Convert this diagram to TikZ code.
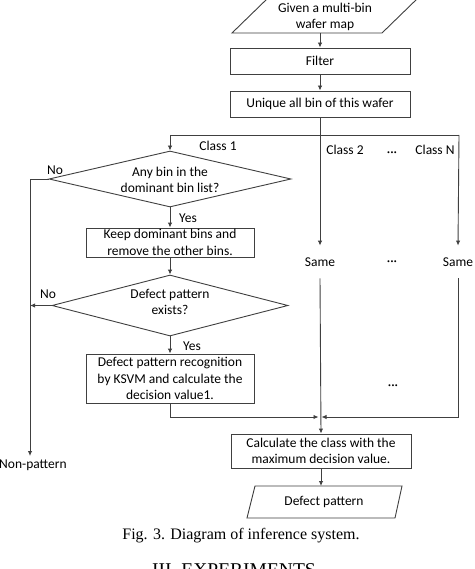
\documentclass[tikz,border=0pt]{standalone}
\usepackage{fontspec}
\setmainfont{Carlito}
\newfontfamily\capfont{Liberation Serif}
\usetikzlibrary{arrows.meta,shapes.geometric}
\definecolor{ln}{HTML}{404040}
\tikzset{
  arr/.style={draw=ln,line width=0.9pt,-{Latex[length=5pt,width=4.5pt]}},
  ln/.style={draw=ln,line width=0.9pt},
  box/.style={draw=ln,line width=0.9pt,rectangle,inner sep=0pt,align=center,font=\fontsize{13.5}{16.5}\selectfont},
  dia/.style={draw=ln,line width=0.9pt,diamond,inner sep=0pt},
  txt/.style={inner sep=0pt,align=center,font=\fontsize{13.5}{16.5}\selectfont},
}
\begin{document}
\begin{tikzpicture}[x=1pt,y=-1pt]
\useasboundingbox[fill=white] (0,0) rectangle (474,569);
% top parallelogram
\draw[ln] (232,33) -- (382,33) -- (418,-2) -- (268,-2) -- cycle;
\node[txt] (gin) at (325,17) {Given a multi-bin\\wafer map};
\coordinate (ginb) at (320,33);
\node[box,minimum width=180pt,minimum height=26pt] (filter) at (320,61) {Filter};
\node[box,minimum width=180pt,minimum height=26pt] (unique) at (320,104) {Unique all bin of this wafer};
\coordinate (c1) at (170,135);
\coordinate (c2) at (320,135);
\coordinate (cN) at (459,135);
\node[dia,minimum width=242pt,minimum height=56pt] (d1) at (170,179) {};
\node[txt] at (170,180) {Any bin in the\\dominant bin list?};
\node[box,minimum width=168pt,minimum height=29pt] (b2) at (170,242.5) {Keep dominant bins and\\remove the other bins.};
\node[dia,minimum width=236pt,minimum height=61pt] (d2) at (170,305.5) {};
\node[txt] at (170,302) {Defect pattern\\exists?};
\node[box,minimum width=168pt,minimum height=49pt] (b3) at (170,378.5) {Defect pattern recognition\\by KSVM and calculate the\\decision value1.};
\node[box,minimum width=180pt,minimum height=34pt] (b4) at (321,451) {Calculate the class with the\\maximum decision value.};
% bottom parallelogram
\draw[ln] (255,486) -- (402,486) -- (395,518) -- (247,518) -- cycle;
\node[txt] (dp) at (324,502) {Defect pattern};
\coordinate (dpt) at (321,486);
% labels
\node[txt] at (218,146) {Class 1};
\node[txt] at (345,150) {Class 2};
\node[txt] at (392,154) {···};
\node[txt] at (435,150) {Class N};
\node[txt,outer ysep=12pt] (s1) at (320,262) {Same};
\node[txt,outer ysep=12pt] (s2) at (458,262) {Same};
\node[txt] at (392,263) {···};
\node[txt] at (393,387) {···};
\node[txt] at (55,170) {No};
\node[txt] at (48,294) {No};
\node[txt] at (188,218) {Yes};
\node[txt] at (192,346) {Yes};
\node[txt,anchor=west] (np) at (-1,465) {Non-pattern};
\coordinate (npc) at (30,179);
\coordinate (npt) at (30,456);
\coordinate (j) at (320,417);
% connectors
\draw[arr] (ginb) -- (filter.north);
\draw[arr] (filter.south) -- (unique.north);
\draw[ln] (unique.south) -- (c2);
\draw[ln] (c1) -- (cN);
\draw[arr] (c1) -- (d1.north);
\draw[arr] (c2) -- (s1.north);
\draw[arr] (cN) -- (s2.north);
\draw[arr] (d1.south) -- (b2.north);
\draw[arr] (b2.south) -- (d2.north);
\draw[arr] (d2.south) -- (b3.north);
\draw[arr] (d1.west) -- (npc) -- (npt);
\draw[arr] (d2.west) -- (d2.west -| npc);
\draw[arr,shorten >=1.5pt] (b3.south) |- (j);
\draw[arr,shorten >=1.5pt] (s2.south) |- (j);
\draw[arr] (s1.south) -- (b4.north);
\draw[arr] (b4.south) -- (dpt);
% caption
\node[inner sep=0pt,font=\capfont\fontsize{16}{18}\selectfont] (cap) at (241,536) {Fig. 3. Diagram of inference system.};
\node[inner sep=0pt,anchor=base,font=\capfont\fontsize{19.5}{21}\selectfont] (sec) at (234,576.5) {III. EXPERIMENTS};
\end{tikzpicture}
\end{document}
